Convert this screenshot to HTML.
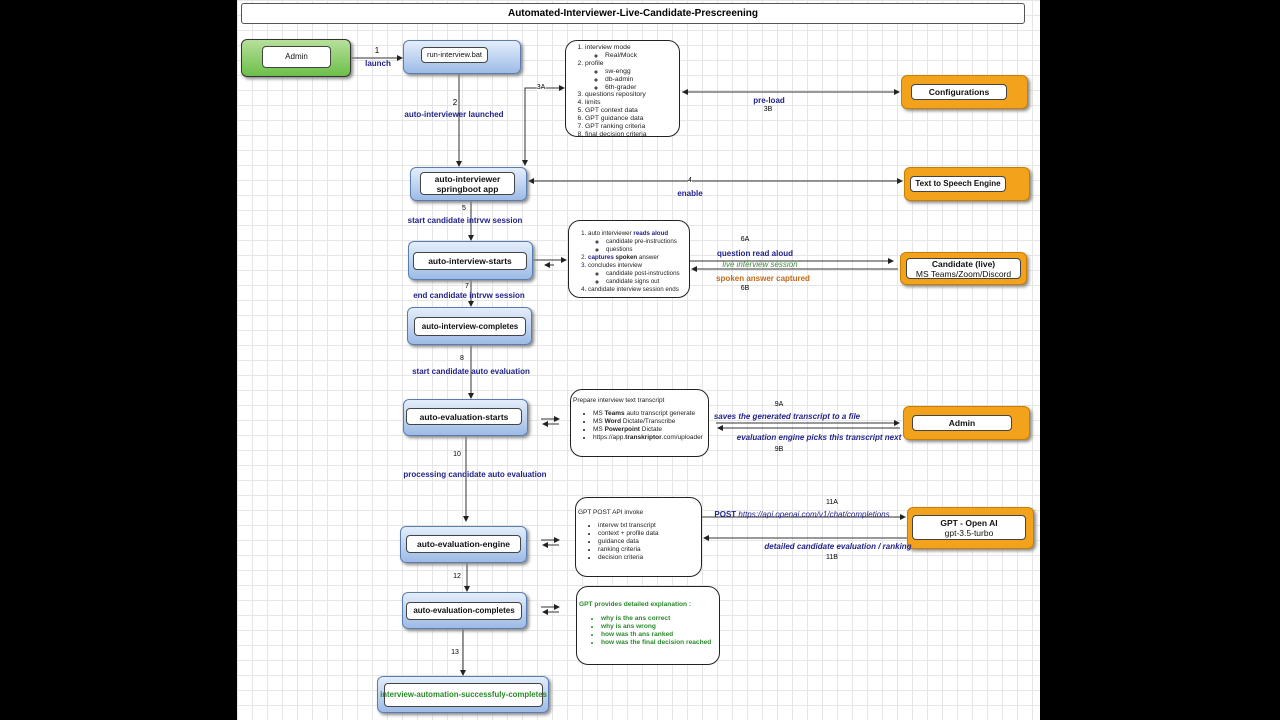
<!DOCTYPE html>
<html><head><meta charset="utf-8"><style>
*{box-sizing:border-box;margin:0;padding:0}
body{width:1280px;height:720px;background:#000;position:relative;overflow:hidden;font-family:"Liberation Sans",sans-serif}
#pg{position:absolute;left:237px;top:0;width:803px;height:720px;background-color:#fff;
background-image:linear-gradient(#e6e6e6 1px,transparent 1px),linear-gradient(90deg,#e6e6e6 1px,transparent 1px);background-size:15px 15px}
.a{position:absolute}
.b{position:absolute;border:1.5px solid #5a7db0;border-radius:6px;background:linear-gradient(#e4eefb,#9dbbe6);box-shadow:2px 2px 3px #888}
.o{position:absolute;border:1.5px solid #c77f00;border-radius:6px;background:#f2a31b;box-shadow:2px 2px 3px #888}
.g{position:absolute;border:1.5px solid #333;border-radius:6px;background:linear-gradient(#b6e09a,#6cbf4a);box-shadow:2px 2px 3px #888}
.i{position:absolute;background:#fff;border:1px solid #444;border-radius:4px;display:flex;align-items:center;justify-content:center;text-align:center;font-size:8.5px;font-weight:bold;color:#111;line-height:10px;white-space:nowrap}
.n{position:absolute;background:#fff;border:1px solid #222;border-radius:12px;font-size:6.8px;color:#222;line-height:8px;white-space:nowrap}
.t{position:absolute;font-size:8px;white-space:nowrap;transform:translateX(-50%)}
.bl{color:#22238a;font-weight:bold}
ul,ol{margin:0}
ul.c{list-style:circle;padding-left:18px}
</style></head><body>
<div id="pg"></div>
<div class="a" style="left:241px;top:3px;width:784px;height:21px;border:1px solid #555;border-radius:3px;background:#fff;text-align:center;font-size:10px;font-weight:bold;line-height:19px">Automated-Interviewer-Live-Candidate-Prescreening</div>

<svg class="a" style="left:0;top:0" width="1280" height="720">
<defs><marker id="m" markerWidth="6" markerHeight="6" refX="5" refY="3" orient="auto"><path d="M0,0L6,3L0,6z" fill="#222"/></marker></defs>
<g stroke="#333" stroke-width="1" fill="none" marker-end="url(#m)">
<line x1="351" y1="58" x2="402" y2="58"/>
<line x1="459" y1="74" x2="459" y2="166"/>
<polyline points="525,88 564,88"/>
<polyline points="530,88 525,88 525,165"/>
<line x1="682" y1="92" x2="899" y2="92"/>
<line x1="895" y1="92" x2="683" y2="92"/>
<line x1="530" y1="181" x2="902" y2="181"/>
<line x1="900" y1="181" x2="529" y2="181"/>
<line x1="471" y1="201" x2="471" y2="240"/>
<line x1="533" y1="260" x2="566" y2="260"/>
<line x1="554" y1="265" x2="545" y2="265"/>
<line x1="690" y1="261" x2="893" y2="261"/>
<line x1="898" y1="269" x2="692" y2="269"/>
<line x1="471" y1="280" x2="471" y2="306"/>
<line x1="471" y1="345" x2="471" y2="398"/>
<line x1="541" y1="419" x2="559" y2="419"/>
<line x1="559" y1="424" x2="543" y2="424"/>
<line x1="716" y1="423" x2="899" y2="423"/>
<line x1="900" y1="428" x2="718" y2="428"/>
<line x1="466" y1="436" x2="466" y2="521"/>
<line x1="702" y1="517" x2="905" y2="517"/>
<line x1="907" y1="538" x2="704" y2="538"/>
<line x1="541" y1="540" x2="559" y2="540"/>
<line x1="559" y1="545" x2="543" y2="545"/>
<line x1="467" y1="563" x2="467" y2="591"/>
<line x1="541" y1="607" x2="559" y2="607"/>
<line x1="559" y1="612" x2="543" y2="612"/>
<line x1="463" y1="629" x2="463" y2="675"/>
</g></svg>

<div class="g" style="left:241px;top:39px;width:110px;height:38px"><div class="i" style="left:20px;top:6px;width:69px;height:22px;font-weight:normal;font-size:8px">Admin</div></div>
<div class="b" style="left:403px;top:40px;width:118px;height:34px"><div class="i" style="left:17px;top:6px;width:67px;height:16px;font-weight:normal;font-size:7.5px">run-interview.bat</div></div>
<div class="b" style="left:410px;top:167px;width:117px;height:34px"><div class="i" style="left:9px;top:4px;width:95px;height:23px"><div>auto-interviewer<br>springboot app</div></div></div>
<div class="b" style="left:408px;top:241px;width:125px;height:39px"><div class="i" style="left:4px;top:10px;width:114px;height:18px">auto-interview-starts</div></div>
<div class="b" style="left:407px;top:307px;width:125px;height:38px"><div class="i" style="left:6px;top:9px;width:112px;height:19px;font-size:8px">auto-interview-completes</div></div>
<div class="b" style="left:403px;top:399px;width:125px;height:37px"><div class="i" style="left:2px;top:8px;width:116px;height:17px">auto-evaluation-starts</div></div>
<div class="b" style="left:400px;top:526px;width:127px;height:37px"><div class="i" style="left:5px;top:8px;width:115px;height:18px">auto-evaluation-engine</div></div>
<div class="b" style="left:402px;top:592px;width:125px;height:37px"><div class="i" style="left:3px;top:9px;width:116px;height:18px;font-size:8px">auto-evaluation-completes</div></div>
<div class="b" style="left:377px;top:676px;width:172px;height:37px"><div class="i" style="left:6px;top:6px;width:159px;height:24px;color:#2a8a2a;font-size:7.8px">interview-automation-successfuly-completes</div></div>

<div class="o" style="left:901px;top:75px;width:127px;height:34px"><div class="i" style="left:9px;top:8px;width:96px;height:16px">Configurations</div></div>
<div class="o" style="left:904px;top:167px;width:126px;height:34px"><div class="i" style="left:5px;top:8px;width:96px;height:16px;font-size:8px">Text to Speech Engine</div></div>
<div class="o" style="left:900px;top:252px;width:127px;height:33px"><div class="i" style="left:5px;top:5px;width:115px;height:21px"><div>Candidate (live)<br><span style="font-weight:normal">MS Teams/Zoom/Discord</span></div></div></div>
<div class="o" style="left:903px;top:406px;width:127px;height:34px"><div class="i" style="left:8px;top:8px;width:100px;height:16px">Admin</div></div>
<div class="o" style="left:907px;top:507px;width:127px;height:42px"><div class="i" style="left:4px;top:7px;width:114px;height:25px"><div>GPT - Open AI<br><span style="font-weight:normal">gpt-3.5-turbo</span></div></div></div>

<div class="n" style="left:565px;top:40px;width:115px;height:97px;padding:3px 0 0 14px;line-height:7.9px">
<ol style="padding-left:5px"><li>interview mode<ul class="c" style="padding-left:20px"><li>Real/Mock</li></ul></li><li>profile<ul class="c" style="padding-left:20px"><li>sw-engg</li><li>db-admin</li><li>6th-grader</li></ul></li><li>questions repository</li><li>limits</li><li>GPT context data</li><li>GPT guidance data</li><li>GPT ranking criteria</li><li>final decision criteria</li></ol></div>

<div class="n" style="left:568px;top:220px;width:122px;height:78px;padding:9px 0 0 14px;font-size:6.2px;line-height:8px">
<ol style="padding-left:5px"><li>auto interviewer <b style="color:#22238a">reads aloud</b><ul class="c"><li>candidate pre-instructions</li><li>questions</li></ul></li><li><b style="color:#22238a">captures</b> <b>spoken</b> answer</li><li>concludes interview<ul class="c"><li>candidate post-instructions</li><li>candidate signs out</li></ul></li><li>candidate interview session ends</li></ol></div>

<div class="n" style="left:570px;top:389px;width:139px;height:68px;padding:7px 0 0 2px;font-size:6.5px">Prepare interview text transcript
<ul style="padding-left:20px;margin-top:5px"><li>MS <b>Teams</b> auto transcript generate</li><li>MS <b>Word</b> Dictate/Transcribe</li><li>MS <b>Powerpoint</b> Dictate</li><li>https://app.<b>transkriptor</b>.com/uploader</li></ul></div>

<div class="n" style="left:575px;top:497px;width:127px;height:80px;padding:11px 0 0 2px;font-size:6.5px">GPT POST API invoke
<ul style="padding-left:20px;margin-top:5px"><li>intervw txt transcript</li><li>context + profile data</li><li>guidance data</li><li>ranking criteria</li><li>decision criteria</li></ul></div>

<div class="n" style="left:576px;top:586px;width:144px;height:79px;padding:14px 0 0 2px;color:#2a8a2a;font-weight:bold;font-size:6.6px">GPT provides detailed explanation :
<ul style="padding-left:22px;margin-top:6px"><li>why is the ans  correct</li><li>why is ans wrong</li><li>how was th ans ranked</li><li>how was the final decision reached</li></ul></div>

<div class="t" style="left:377px;top:46px">1</div>
<div class="t bl" style="left:378px;top:59px">launch</div>
<div class="t" style="left:455px;top:98px">2</div>
<div class="t bl" style="left:454px;top:110px">auto-interviewer launched</div>
<div class="t" style="left:541px;top:84px;font-size:7px;background:#fff">3A</div>
<div class="t bl" style="left:769px;top:96px">pre-load</div>
<div class="t" style="left:768px;top:106px;font-size:7px">3B</div>
<div class="t" style="left:690px;top:177px;font-size:7px;background:#fff">4</div>
<div class="t bl" style="left:690px;top:189px">enable</div>
<div class="t" style="left:464px;top:205px;font-size:7px">5</div>
<div class="t bl" style="left:465px;top:216px">start candidate intrvw session</div>
<div class="t" style="left:745px;top:236px;font-size:7px">6A</div>
<div class="t bl" style="left:755px;top:249px">question read aloud</div>
<div class="t" style="left:760px;top:260px;color:#3a8a3a;font-style:italic">live interview session</div>
<div class="t" style="left:763px;top:274px;color:#c46a1a;font-weight:bold">spoken answer captured</div>
<div class="t" style="left:745px;top:285px;font-size:7px">6B</div>
<div class="t" style="left:467px;top:283px;font-size:7px">7</div>
<div class="t bl" style="left:469px;top:291px">end candidate intrvw session</div>
<div class="t" style="left:462px;top:355px;font-size:7px">8</div>
<div class="t bl" style="left:471px;top:367px">start candidate auto evaluation</div>
<div class="t" style="left:779px;top:401px;font-size:7px">9A</div>
<div class="t bl" style="left:787px;top:412px;font-style:italic">saves the generated transcript to a file</div>
<div class="t bl" style="left:819px;top:433px;font-style:italic">evaluation engine picks this transcript next</div>
<div class="t" style="left:779px;top:446px;font-size:7px">9B</div>
<div class="t" style="left:457px;top:451px;font-size:7px">10</div>
<div class="t bl" style="left:475px;top:470px">processing candidate auto evaluation</div>
<div class="t" style="left:832px;top:499px;font-size:7px">11A</div>
<div class="t" style="left:802px;top:510px;color:#22238a;font-style:italic"><b style="font-style:normal">POST</b> https://api.openai.com/v1/chat/completions</div>
<div class="t bl" style="left:838px;top:542px;font-style:italic">detailed candidate evaluation / ranking</div>
<div class="t" style="left:832px;top:554px;font-size:7px">11B</div>
<div class="t" style="left:457px;top:573px;font-size:7px">12</div>
<div class="t" style="left:455px;top:649px;font-size:7px">13</div>
</body></html>
